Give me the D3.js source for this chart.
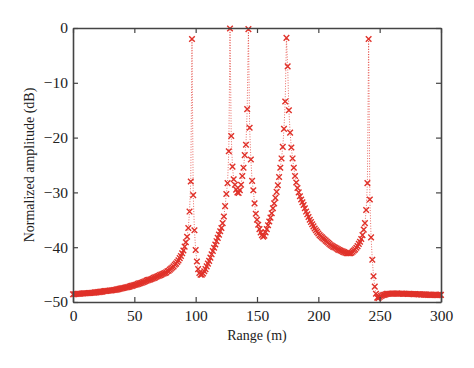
<!DOCTYPE html>
<html>
  <head>
    <meta charset="utf-8">
    <style>
      body { margin: 0; background: #fff; }
      svg { display: block; }
      .tick text { font-family: "Liberation Serif", serif; font-size: 15.5px; fill: #222; }
      .label { font-family: "Liberation Serif", serif; font-size: 14px; fill: #222; }
    </style>
    <script src="https://d3js.org/d3.v7.min.js"></script>
  </head>
  <body>
    <svg></svg>
    <script>
    // range samples are 1 m apart, starting at 0 m
    var rangeStart = 0;
    var rangeStep = 1;

    // normalized amplitude (dB), one value per metre
    var amp0to49 = [
      -48.6, -48.6, -48.55, -48.55, -48.5, -48.5, -48.5, -48.45, -48.45, -48.4,
      -48.4, -48.4, -48.4, -48.35, -48.35, -48.3, -48.3, -48.3, -48.25, -48.25,
      -48.2, -48.2, -48.15, -48.1, -48.1, -48.05, -48.0, -48.0, -47.95, -47.95,
      -47.9, -47.9, -47.85, -47.8, -47.8, -47.75, -47.7, -47.65, -47.6, -47.55,
      -47.5, -47.45, -47.4, -47.35, -47.3, -47.25, -47.2, -47.1, -47.05, -47.0
    ];
    var amp50to99 = [
      -46.9, -46.85, -46.8, -46.7, -46.6, -46.55, -46.5, -46.4, -46.3, -46.2,
      -46.1, -46.0, -45.95, -45.9, -45.8, -45.7, -45.6, -45.5, -45.4, -45.3,
      -45.2, -45.1, -45.0, -44.9, -44.8, -44.7, -44.6, -44.4, -44.3, -44.1,
      -43.9, -43.7, -43.5, -43.2, -43.0, -42.7, -42.4, -42.0, -41.6, -41.1,
      -40.6, -39.9, -39.1, -38.1, -36.5, -33.5, -28.0, -2.0, -30.5, -36.9
    ];
    var amp100to149 = [
      -40.5, -42.6, -44.0, -44.7, -45.0, -45.0, -44.8, -44.4, -44.0, -43.5,
      -43.0, -42.5, -41.9, -41.3, -40.7, -40.1, -39.5, -38.9, -38.3, -37.7,
      -37.1, -36.5, -35.6, -34.4, -32.5, -30.3, -28.3, -22.5, -0.1, -19.7,
      -25.3, -27.6, -28.6, -29.5, -30.0, -30.1, -29.6, -28.6, -27.0, -25.5,
      -23.2, -21.3, -14.8, -0.2, -18.2, -24.0, -27.9, -29.6, -32.0, -33.9
    ];
    var amp150to199 = [
      -35.0, -35.9, -36.7, -37.3, -37.8, -38.1, -37.9, -37.3, -36.7, -36.0,
      -35.3, -34.6, -33.8, -32.9, -32.0, -31.0, -29.9, -28.7, -27.2, -25.5,
      -23.8, -21.7, -18.4, -13.4, -1.8, -7.0, -15.0, -19.1, -21.8, -23.8,
      -25.5, -27.0, -28.2, -29.2, -30.0, -30.7, -31.3, -31.8, -32.3, -32.9,
      -33.5, -34.0, -34.5, -35.0, -35.4, -35.8, -36.2, -36.6, -36.9, -37.2
    ];
    var amp200to249 = [
      -37.5, -37.8, -38.0, -38.2, -38.4, -38.6, -38.8, -39.0, -39.2, -39.4,
      -39.6, -39.75, -39.9, -40.0, -40.1, -40.25, -40.4, -40.5, -40.6, -40.7,
      -40.8, -40.9, -41.0, -41.1, -41.1, -41.1, -41.1, -41.0, -40.8, -40.6,
      -40.4, -40.1, -39.8, -39.4, -39.0, -38.5, -37.8, -36.8, -35.6, -33.2,
      -28.3, -2.0, -31.3, -38.2, -42.3, -45.3, -47.2, -48.5, -49.2, -49.3
    ];
    var amp250to300 = [
      -49.1, -48.9, -48.8, -48.7, -48.7, -48.6, -48.5, -48.5, -48.5, -48.5,
      -48.5, -48.45, -48.45, -48.45, -48.45, -48.5, -48.5, -48.5, -48.45, -48.5,
      -48.5, -48.5, -48.5, -48.55, -48.5, -48.55, -48.55, -48.55, -48.6, -48.55,
      -48.6, -48.6, -48.6, -48.6, -48.65, -48.6, -48.65, -48.65, -48.65, -48.7,
      -48.65, -48.7, -48.7, -48.7, -48.7, -48.7, -48.7, -48.75, -48.7, -48.7,
      -48.7
    ];

    var xTicks = [0, 50, 100, 150, 200, 250, 300];
    var yTicks = [0, -10, -20, -30, -40, -50];

    var amplitude = [].concat(amp0to49, amp50to99, amp100to149, amp150to199, amp200to249, amp250to300);
    var points = amplitude.map(function(d, i) {
      return { range: rangeStart + i * rangeStep, amp: d };
    });

    var width = 474;
    var height = 368;
    var margin = { top: 28, right: 33, bottom: 66, left: 73 };
    var innerW = width - margin.left - margin.right;
    var innerH = height - margin.top - margin.bottom;

    var svg = d3.select("svg")
        .attr("width", width)
        .attr("height", height);

    var g = svg.append("g")
        .attr("transform", "translate(" + margin.left + "," + margin.top + ")");

    var x = d3.scaleLinear().domain([0, 300]).range([0, innerW]);
    var y = d3.scaleLinear().domain([-50, 0]).range([innerH, 0]);

    var axisColor = "#444";
    var red = "#e0322a";

    // series: dotted line plus x markers
    var line = d3.line()
        .x(function(d) { return x(d.range); })
        .y(function(d) { return y(d.amp); });

    g.append("path")
        .datum(points)
        .attr("fill", "none")
        .attr("stroke", red)
        .attr("stroke-width", 0.9)
        .attr("stroke-dasharray", "1,1.6")
        .attr("opacity", 0.8)
        .attr("d", line);

    var s = 2.8;
    g.append("g")
        .selectAll("path")
        .data(points)
        .enter().append("path")
          .attr("transform", function(d) { return "translate(" + x(d.range) + "," + y(d.amp) + ")"; })
          .attr("d", "M" + (-s) + "," + (-s) + "L" + s + "," + s + "M" + (-s) + "," + s + "L" + s + "," + (-s))
          .attr("stroke", red)
          .attr("stroke-width", 1.4)
          .attr("fill", "none");

    // axes, ticks pointing inward on all four sides
    var axBottom = g.append("g")
        .attr("transform", "translate(0," + innerH + ")")
        .call(d3.axisBottom(x).tickValues(xTicks).tickSizeInner(-5).tickSizeOuter(0).tickPadding(8));
    var axLeft = g.append("g")
        .call(d3.axisLeft(y).tickValues(yTicks).tickSizeInner(-5).tickSizeOuter(0).tickPadding(5));
    var axTop = g.append("g")
        .call(d3.axisTop(x).tickValues(xTicks).tickSizeInner(-5).tickSizeOuter(0).tickFormat(""));
    var axRight = g.append("g")
        .attr("transform", "translate(" + innerW + ",0)")
        .call(d3.axisRight(y).tickValues(yTicks).tickSizeInner(-5).tickSizeOuter(0).tickFormat(""));

    [axBottom, axLeft, axTop, axRight].forEach(function(a) {
      a.select(".domain").attr("stroke", axisColor).attr("stroke-width", 1.6);
      a.selectAll(".tick line").attr("stroke", axisColor).attr("stroke-width", 1.2);
    });

    svg.append("text")
        .attr("class", "label")
        .attr("x", margin.left + innerW / 2)
        .attr("y", 340)
        .attr("text-anchor", "middle")
        .text("Range (m)");

    svg.append("text")
        .attr("class", "label")
        .attr("transform", "translate(34," + (margin.top + innerH / 2) + ") rotate(-90)")
        .attr("text-anchor", "middle")
        .text("Normalized amplitude (dB)");
    </script>
  </body>
</html>
